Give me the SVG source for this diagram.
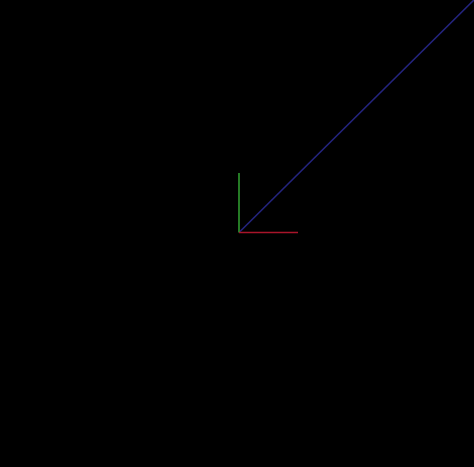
<svg xmlns="http://www.w3.org/2000/svg" width="474" height="467" viewBox="0 0 474 467">
<style>
.ax{fill:none;stroke-width:1.6;stroke-linecap:butt}
</style>
<rect x="0" y="0" width="474" height="467" fill="#000000"/>
<g id="connectors">
<line class="ax" x1="239" y1="232.5" x2="476" y2="-2" stroke="#24247e" stroke-width="1.2"/>
<line class="ax" x1="239" y1="173" x2="239" y2="232.5" stroke="#2f9a2f"/>
<line class="ax" x1="239" y1="232.5" x2="298" y2="232.5" stroke="#a8142a"/>
</g>
</svg>
